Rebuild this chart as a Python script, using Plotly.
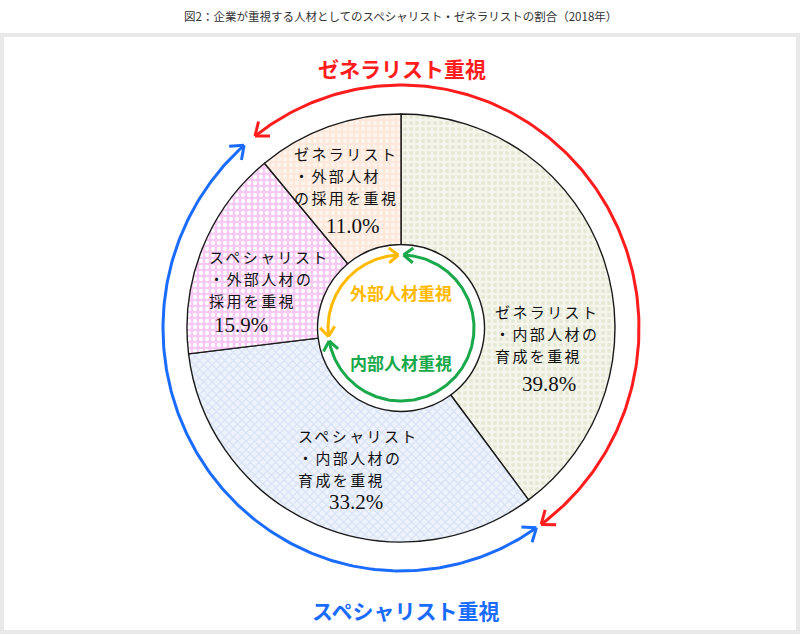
import numpy as np
import plotly.graph_objects as go

# ---------------- data ----------------
categories = [
    "ゼネラリスト・内部人材の育成を重視",
    "スペシャリスト・内部人材の育成を重視",
    "スペシャリスト・外部人材の採用を重視",
    "ゼネラリスト・外部人材の採用を重視",
]
values = [39.8, 33.2, 15.9, 11.0]
label_lines = [
    ["ゼネラリスト", "・内部人材の", "育成を重視"],
    ["スペシャリスト", "・内部人材の", "育成を重視"],
    ["スペシャリスト", "・外部人材の", "採用を重視"],
    ["ゼネラリスト", "・外部人材", "の採用を重視"],
]
skill_group = ["ゼネラリスト", "スペシャリスト", "スペシャリスト", "ゼネラリスト"]
source_group = ["内部", "内部", "外部", "外部"]
group_titles = {"ゼネラリスト": "ゼネラリスト重視", "スペシャリスト": "スペシャリスト重視",
                "内部": "内部人材重視", "外部": "外部人材重視"}
title_text = "図2：企業が重視する人材としてのスペシャリスト・ゼネラリストの割合（2018年）"

# ---------------- layout constants ----------------
W, H = 800, 635
CX, CY, R = 401, 328, 214
HOLE = 0.39
JP = "Noto Sans CJK JP"

fill_bg = ["#f5f5ec", "#edf2fb", "#f8c8f5", "#fde8dc"]
fill_fg = ["#e5e8d4", "#d5e0f4", "#ffffff", "#fff4ec"]
fill_shape = [".", "x", ".", "."]
fill_solidity = [0.35, 0.3, 0.4, 0.4]

# label placement per slice: (x_left, y_first_line, x_pct, y_pct)
label_pos = [(494, 311, 521, 384), (297, 435, 328, 502), (208, 256, 213, 325), (293, 153, 325, 226)]
LINE_GAP = 22.3

total = sum(values)
ends = np.cumsum(values) / total * 360.0
starts = np.concatenate([[0.0], ends[:-1]])
n = len(values)


def group_span(key_list, key):
    idx = [i for i, k in enumerate(key_list) if k == key]
    if 0 in idx and n - 1 in idx and len(idx) < n:
        run_start = min(i for i in idx if (i - 1) % n not in idx)
        run_end = max(i for i in idx if (i + 1) % n not in idx)
        return starts[run_start] - 360.0, ends[run_end]
    return min(starts[i] for i in idx), max(ends[i] for i in idx)


def arc_pts(cx, cy, rx, ry, a0, a1, npts=200):
    a = np.radians(np.linspace(a0, a1, npts))
    return cx + rx * np.sin(a), cy - ry * np.cos(a)


def arrow_head(cx, cy, rx, ry, ang, forward, L=14, spread=38):
    a = np.radians(ang)
    tx, ty = cx + rx * np.sin(a), cy - ry * np.cos(a)
    d = np.array([rx * np.cos(a), ry * np.sin(a)])
    d = d / np.linalg.norm(d) * forward
    xs, ys = [], []
    for s in (spread, -spread):
        t = np.radians(s)
        rot = np.array([d[0] * np.cos(t) - d[1] * np.sin(t), d[0] * np.sin(t) + d[1] * np.cos(t)])
        xs += [tx - L * rot[0], tx, None]
        ys += [ty - L * rot[1], ty, None]
    return xs, ys


fig = go.Figure()

fig.add_trace(go.Pie(
    labels=categories, values=values, sort=False, direction="clockwise", rotation=0,
    hole=HOLE, textinfo="none", hoverinfo="skip", showlegend=False,
    marker=dict(colors=fill_bg, line=dict(color="#1a1a1a", width=1.4),
                pattern=dict(shape=fill_shape, fgcolor=fill_fg, bgcolor=fill_bg,
                             size=6, solidity=fill_solidity, fillmode="replace")),
    domain=dict(x=[(CX - R) / W, (CX + R) / W], y=[1 - (CY + R) / H, 1 - (CY - R) / H]),
))


def add_double_arc(a0, a1, rx, ry, color, width, L):
    x, y = arc_pts(CX, CY, rx, ry, a0, a1)
    fig.add_trace(go.Scatter(x=x, y=y, mode="lines", line=dict(color=color, width=width),
                             hoverinfo="skip", showlegend=False))
    hx1, hy1 = arrow_head(CX, CY, rx, ry, a1, +1, L=L)
    hx0, hy0 = arrow_head(CX, CY, rx, ry, a0, -1, L=L)
    fig.add_trace(go.Scatter(x=hx1 + hx0, y=hy1 + hy0, mode="lines",
                             line=dict(color=color, width=width), hoverinfo="skip", showlegend=False))


# outer arcs: generalist / specialist
g0, g1 = group_span(skill_group, "ゼネラリスト")
s0, s1 = group_span(skill_group, "スペシャリスト")
RX_O, RY_O = 238, 243
add_double_arc(g0 + 1.8, g1 + 0.5, RX_O, RY_O, "#ff1c1c", 3, 15)
add_double_arc(s0 + 1.9, s1 - 1.6, RX_O, RY_O, "#1a6cff", 3, 15)

# inner arcs: internal / external
i0, i1 = group_span(source_group, "内部")
e0, e1 = group_span(source_group, "外部")
R_IN = 73
add_double_arc(i0 + 2.0, i1 - 3.2, R_IN, R_IN, "#19a84a", 3, 12)
add_double_arc(e0 + 0.3, e1 - 2.0, R_IN, R_IN, "#ffba00", 3, 12)

annotations = []
for i, lines in enumerate(label_lines):
    xl, y0, xp, yp = label_pos[i]
    for j, t in enumerate(lines):
        annotations.append(dict(x=xl, y=y0 + LINE_GAP * j,
                                text=f'<span style="letter-spacing:2.4px">{t}</span>',
                                showarrow=False, xanchor="left", yanchor="middle", borderpad=0,
                                font=dict(family=JP, size=15, color="#111111")))
    annotations.append(dict(x=xp, y=yp, text=f"{values[i]:.1f}%", showarrow=False, xanchor="left",
                            yanchor="middle", borderpad=0,
                            font=dict(family="Liberation Serif", size=21, color="#111111")))

annotations += [
    dict(x=402, y=68, text=group_titles["ゼネラリスト"], showarrow=False,
         font=dict(family=JP, size=21, color="#ff1c1c", weight=700)),
    dict(x=406, y=610, text=group_titles["スペシャリスト"], showarrow=False,
         font=dict(family=JP, size=21, color="#1a6cff", weight=700)),
    dict(x=401, y=292, text=group_titles["外部"], showarrow=False,
         font=dict(family=JP, size=17, color="#ffba00", weight=700)),
    dict(x=401, y=362, text=group_titles["内部"], showarrow=False,
         font=dict(family=JP, size=17, color="#19a84a", weight=700)),
    dict(x=400, y=16, text=title_text, showarrow=False,
         font=dict(family=JP, size=11.5, color="#333333")),
]

fig.update_layout(
    width=W, height=H, margin=dict(l=0, r=0, t=0, b=0),
    paper_bgcolor="white", plot_bgcolor="rgba(0,0,0,0)",
    xaxis=dict(range=[0, W], visible=False, fixedrange=True),
    yaxis=dict(range=[H, 0], visible=False, fixedrange=True),
    annotations=annotations,
    shapes=[dict(type="rect", xref="x", yref="y", x0=2, y0=35, x1=798, y1=632,
                 line=dict(color="#e9e9e9", width=4), fillcolor="white", layer="below")],
)

fig.write_html("out.html", config={"displayModeBar": False},
               post_script="document.body.style.margin='0';document.body.style.overflow='hidden';")
